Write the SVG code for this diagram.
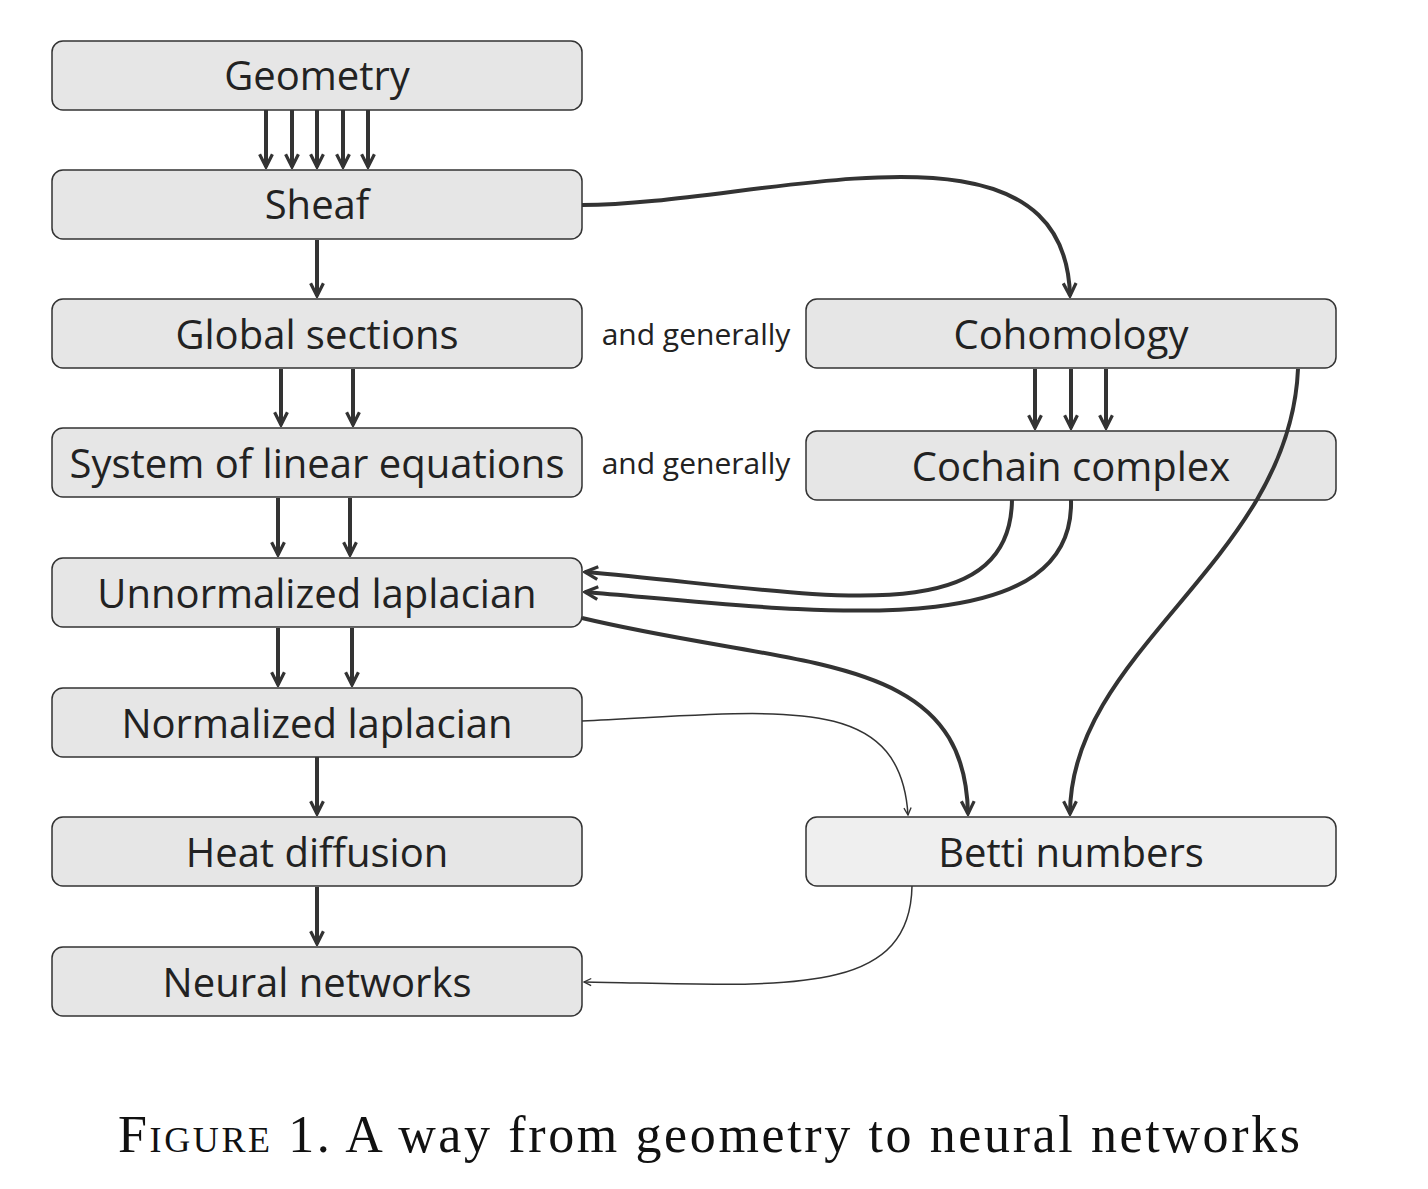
<svg xmlns="http://www.w3.org/2000/svg" width="1428" height="1189" viewBox="0 0 1428 1189">
<style>
.b{fill:#e6e6e6;stroke:#333;stroke-width:1.5}
.t{font-family:"Open Sans","Noto Sans",sans-serif;font-size:40px;fill:#222;text-anchor:middle}
.s{font-family:"Open Sans","Noto Sans",sans-serif;font-size:30px;fill:#222;text-anchor:middle}
.a{fill:none;stroke:#333;stroke-width:4;marker-end:url(#h)}
.f{fill:none;stroke:#333;stroke-width:1.5;marker-end:url(#hs)}
</style>
<defs>
<marker id="h" viewBox="0 0 10 10" refX="9" refY="5" markerWidth="4" markerHeight="4" orient="auto" markerUnits="strokeWidth"><path d="M1,1 L9,5 L1,9" fill="none" stroke="#333" stroke-width="2"/></marker>
<marker id="hs" viewBox="0 0 10 10" refX="9" refY="5" markerWidth="6" markerHeight="6" orient="auto" markerUnits="strokeWidth"><path d="M1,1 L9,5 L1,9" fill="none" stroke="#333" stroke-width="1.5"/></marker>
</defs>
<rect width="1428" height="1189" fill="#fff"/>
<g id="geometry"><rect class="b" x="52" y="41" width="530" height="69" rx="11"/><text class="t" x="317" y="90">Geometry</text></g>
<g id="sheaf"><rect class="b" x="52" y="170" width="530" height="69" rx="11"/><text class="t" x="317" y="219">Sheaf</text></g>
<g id="global"><rect class="b" x="52" y="299" width="530" height="69" rx="11"/><text class="t" x="317" y="349">Global sections</text></g>
<g id="system"><rect class="b" x="52" y="428" width="530" height="69" rx="11"/><text class="t" x="317" y="478">System of linear equations</text></g>
<g id="unnorm"><rect class="b" x="52" y="558" width="530" height="69" rx="11"/><text class="t" x="317" y="608">Unnormalized laplacian</text></g>
<g id="norm"><rect class="b" x="52" y="688" width="530" height="69" rx="11"/><text class="t" x="317" y="738">Normalized laplacian</text></g>
<g id="heat"><rect class="b" x="52" y="817" width="530" height="69" rx="11"/><text class="t" x="317" y="867">Heat diffusion</text></g>
<g id="neural"><rect class="b" x="52" y="947" width="530" height="69" rx="11"/><text class="t" x="317" y="997">Neural networks</text></g>
<g id="cohomology"><rect class="b" x="806" y="299" width="530" height="69" rx="11"/><text class="t" x="1071" y="349">Cohomology</text></g>
<g id="cochain"><rect class="b" x="806" y="431" width="530" height="69" rx="11"/><text class="t" x="1071" y="481">Cochain complex</text></g>
<g id="betti"><rect class="b" x="806" y="817" width="530" height="69" rx="11" style="fill:#efefef"/><text class="t" x="1071" y="867">Betti numbers</text></g>
<g id="labels">
<text class="s" x="696" y="345">and generally</text>
<text class="s" x="696" y="474">and generally</text>
</g>
<g id="connectors">
<path class="a" d="M266,110V167"/><path class="a" d="M292,110V167"/><path class="a" d="M317,110V167"/><path class="a" d="M343,110V167"/><path class="a" d="M368,110V167"/>
<path class="a" d="M317,240V296"/>
<path class="a" d="M281,369V425"/><path class="a" d="M353,369V425"/>
<path class="a" d="M278,498V555"/><path class="a" d="M350,498V555"/>
<path class="a" d="M278,628V685"/><path class="a" d="M352,628V685"/>
<path class="a" d="M317,757V814"/>
<path class="a" d="M317,887V944"/>
<path class="a" d="M582,205 C760,205 1065,100 1070,296"/>
<path class="a" d="M1035,369V428"/><path class="a" d="M1071,369V428"/><path class="a" d="M1106,369V428"/>
<path class="a" d="M1012,500 C1010,640 800,590 585,572"/>
<path class="a" d="M1071,500 C1075,650 800,610 585,592"/>
<path class="a" d="M582,618 C800,670 965,650 968,814"/>
<path class="a" d="M1298,369 C1290,560 1070,650 1070,814"/>
<path class="f" d="M582,721 C780,712 900,690 908,815"/>
<path class="f" d="M912,886 C910,1000 780,985 584,982"/>
</g>
<text x="709" y="1152" font-family="'Liberation Serif',serif" font-size="52" text-anchor="middle" fill="#111" textLength="1182" lengthAdjust="spacing"><tspan font-variant="small-caps">Figure</tspan> 1.  A way from geometry to neural networks</text>
</svg>
